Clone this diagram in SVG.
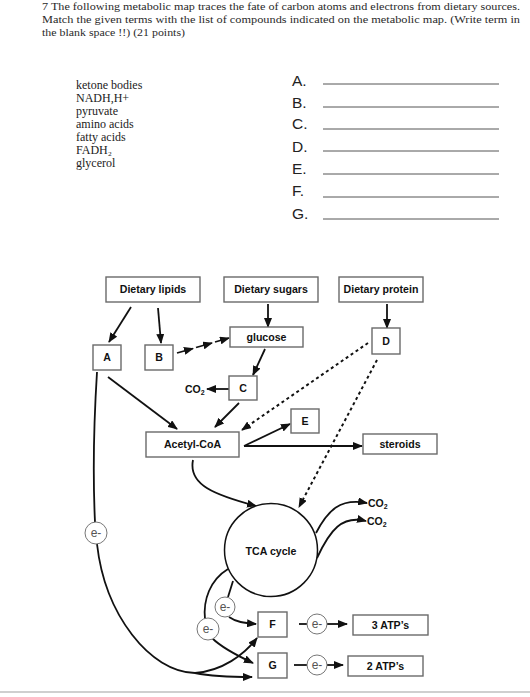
<svg xmlns="http://www.w3.org/2000/svg" width="530" height="697" viewBox="0 0 530 697">
<style>
.hd{font-family:"Liberation Serif",serif;font-size:11.3px;fill:#2a2a2a}
.ls{font-family:"Liberation Serif",serif;font-size:12px;fill:#222}
.lt{font-family:"Liberation Sans",Arial,sans-serif;font-size:15.5px;fill:#222}
.bl{stroke:#555;stroke-width:1}
.box{fill:#fff;stroke:#6a6a6a;stroke-width:1.4}
.bt{font-family:"Liberation Sans",Arial,sans-serif;font-size:10.6px;font-weight:bold;fill:#111;text-anchor:middle}
.co{font-family:"Liberation Sans",Arial,sans-serif;font-size:10.5px;font-weight:bold;fill:#111}
.ec{fill:#fff;stroke:#777;stroke-width:1}
.et{font-family:"Liberation Sans",Arial,sans-serif;font-size:12px;fill:#555;text-anchor:middle}
.ln{fill:none;stroke:#111;stroke-width:1.8}
.ar{fill:none;stroke:#111;stroke-width:1.8;marker-end:url(#ah)}
.dt{fill:none;stroke:#111;stroke-width:2;stroke-dasharray:3 3;marker-end:url(#ah)}
</style>
<defs>
<marker id="ah" viewBox="0 0 10 8" refX="9" refY="4" markerWidth="10" markerHeight="8" markerUnits="userSpaceOnUse" orient="auto"><path d="M0,0 L10,4 L0,8 z" fill="#111"/></marker>
</defs>
<rect width="530" height="697" fill="#fff"/>
<g id="header">
<text class="hd" x="42" y="10" textLength="478" lengthAdjust="spacingAndGlyphs">7 The following metabolic map traces the fate of carbon atoms and electrons from dietary sources.</text>
<text class="hd" x="42" y="23" textLength="478" lengthAdjust="spacingAndGlyphs">Match the given terms with the list of compounds indicated on the metabolic map. (Write term in</text>
<text class="hd" x="42" y="36" textLength="143" lengthAdjust="spacingAndGlyphs">the blank space !!)  (21 points)</text>
</g>
<g id="terms">
<text class="ls" x="76" y="89">ketone bodies</text>
<text class="ls" x="76" y="102">NADH,H+</text>
<text class="ls" x="76" y="115">pyruvate</text>
<text class="ls" x="76" y="128">amino acids</text>
<text class="ls" x="76" y="141">fatty acids</text>
<text class="ls" x="76" y="154">FADH₂</text>
<text class="ls" x="76" y="167">glycerol</text>
</g>
<g id="blanks">
<text class="lt" x="292" y="86">A.</text>
<text class="lt" x="292" y="108">B.</text>
<text class="lt" x="292" y="129">C.</text>
<text class="lt" x="292" y="152">D.</text>
<text class="lt" x="292" y="174">E.</text>
<text class="lt" x="292" y="196">F.</text>
<text class="lt" x="292" y="219">G.</text>
<line class="bl" x1="323" y1="84" x2="499" y2="84"/>
<line class="bl" x1="323" y1="107" x2="499" y2="107"/>
<line class="bl" x1="323" y1="129" x2="499" y2="129"/>
<line class="bl" x1="323" y1="151" x2="499" y2="151"/>
<line class="bl" x1="323" y1="174" x2="499" y2="174"/>
<line class="bl" x1="323" y1="197" x2="499" y2="197"/>
<line class="bl" x1="323" y1="219" x2="499" y2="219"/>
</g>
<g id="connectors">
<line class="ar" x1="131" y1="307" x2="109" y2="342"/>
<line class="ar" x1="158" y1="308" x2="161" y2="343"/>
<line class="ar" x1="177" y1="353" x2="193" y2="348.5"/>
<line class="ar" x1="196" y1="347.5" x2="212" y2="343"/>
<line class="ar" x1="215" y1="342" x2="229" y2="338"/>
<line class="ar" x1="268" y1="304" x2="268" y2="327"/>
<line class="ar" x1="387" y1="304" x2="387" y2="328"/>
<line class="ar" x1="265" y1="349" x2="253" y2="375"/>
<line class="ar" x1="229" y1="389" x2="207" y2="389"/>
<line class="ar" x1="239" y1="403" x2="215" y2="427"/>
<line class="ar" x1="108" y1="377" x2="177" y2="429"/>
<path class="dt" d="M368,343 L242,430"/>
<path class="dt" d="M377,360 L299,507"/>
<line class="ar" x1="244" y1="446" x2="290" y2="424"/>
<line class="ar" x1="244" y1="446" x2="362" y2="446"/>
<path class="ar" d="M193,460 C188,485 215,495 256,506"/>
<path class="ar" d="M316,533 C328,510 340,498 367,503"/>
<path class="ar" d="M317,558 C330,530 342,515 366,521"/>
<path class="ln" d="M97,372 C94,420 93,480 95,522"/>
<path class="ln" d="M97,544 C105,615 150,672 195,673"/>
<path class="ar" d="M195,673 C222,671 244,655 257,638"/>
<path class="ar" d="M195,673 C215,677 235,677 252,677"/>
<path class="ln" d="M233,581 L228,597"/>
<path class="ar" d="M229,617 C236,622 244,623 256,624"/>
<path class="ln" d="M228,569 C210,580 203,600 205,619"/>
<path class="ar" d="M212,638 C222,648 238,656 253,663"/>
<line class="ln" x1="299" y1="624" x2="307" y2="624"/>
<line class="ar" x1="327" y1="624" x2="347" y2="624"/>
<line class="ln" x1="294" y1="665" x2="307" y2="665"/>
<line class="ar" x1="327" y1="665" x2="343" y2="665"/>
</g>
<g id="dietary-lipids"><rect class="box" x="106" y="277" width="94" height="25"/><text class="bt" x="153" y="293">Dietary lipids</text></g>
<g id="dietary-sugars"><rect class="box" x="224" y="277" width="94" height="25"/><text class="bt" x="271" y="293">Dietary sugars</text></g>
<g id="dietary-protein"><rect class="box" x="339" y="277" width="84" height="25"/><text class="bt" x="381" y="293">Dietary protein</text></g>
<g id="glucose"><rect class="box" x="230" y="327" width="73" height="20"/><text class="bt" x="266.5" y="341">glucose</text></g>
<g id="D"><rect class="box" x="372" y="328" width="28" height="26"/><text class="bt" x="386" y="345">D</text></g>
<g id="A"><rect class="box" x="93" y="345" width="28" height="25"/><text class="bt" x="107" y="361">A</text></g>
<g id="B"><rect class="box" x="145" y="345" width="28" height="25"/><text class="bt" x="159" y="361">B</text></g>
<g id="C"><rect class="box" x="229" y="376" width="28" height="24"/><text class="bt" x="243" y="392">C</text></g>
<g id="co2-c"><text class="co" x="185" y="393">CO<tspan font-size="7" dy="2">2</tspan></text></g>
<g id="acetyl-coa"><rect class="box" x="146" y="432" width="93" height="25"/><text class="bt" x="192.5" y="448">Acetyl-CoA</text></g>
<g id="E"><rect class="box" x="291" y="409" width="28" height="24"/><text class="bt" x="305" y="425">E</text></g>
<g id="steroids"><rect class="box" x="363" y="434" width="74" height="20"/><text class="bt" x="400" y="448">steroids</text></g>
<g id="tca"><circle cx="271" cy="550" r="46.5" fill="#fff" stroke="#111" stroke-width="1.5"/><text class="bt" x="271" y="555" font-size="11.5">TCA cycle</text></g>
<g id="co2-1"><text class="co" x="368" y="507">CO<tspan font-size="7" dy="2">2</tspan></text></g>
<g id="co2-2"><text class="co" x="367" y="525">CO<tspan font-size="7" dy="2">2</tspan></text></g>
<g id="e-left"><circle class="ec" cx="96" cy="533" r="11"/><text class="et" x="96" y="537">e-</text></g>
<g id="e-upper"><circle class="ec" cx="225" cy="607" r="10"/><text class="et" x="225" y="611">e-</text></g>
<g id="e-lower"><circle class="ec" cx="208" cy="629" r="11"/><text class="et" x="208" y="633">e-</text></g>
<g id="F"><rect class="box" x="258" y="612" width="29" height="25"/><text class="bt" x="272.5" y="628">F</text></g>
<g id="G"><rect class="box" x="258" y="653" width="29" height="25"/><text class="bt" x="272.5" y="669">G</text></g>
<g id="e-F"><circle class="ec" cx="317" cy="624" r="10"/><text class="et" x="317" y="628">e-</text></g>
<g id="e-G"><circle class="ec" cx="317" cy="665" r="10"/><text class="et" x="317" y="669">e-</text></g>
<g id="atp3"><rect class="box" x="353" y="615" width="75" height="20"/><text class="bt" x="390.5" y="629">3 ATP’s</text></g>
<g id="atp2"><rect class="box" x="348" y="656" width="75" height="20"/><text class="bt" x="385.5" y="670">2 ATP’s</text></g>
<rect x="0" y="691" width="530" height="2" fill="#cfcfcf"/>
</svg>
